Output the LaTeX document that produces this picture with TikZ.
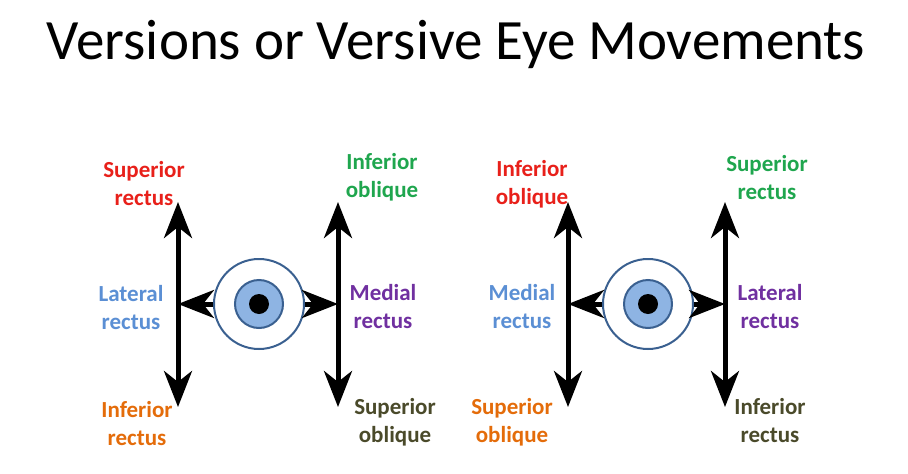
\documentclass[tikz,border=0pt]{standalone}
\usepackage{fontspec}
\setmainfont{Carlito}
\usetikzlibrary{arrows.meta}
\definecolor{cR}{HTML}{E8201A}\definecolor{cG}{HTML}{1FA64E}\definecolor{cB}{HTML}{5B8FD4}
\definecolor{cP}{HTML}{7030A0}\definecolor{cO}{HTML}{E46C0A}\definecolor{cD}{HTML}{4A4A2A}
\definecolor{eyeline}{HTML}{3A6090}\definecolor{iris}{HTML}{8EB4E3}
\begin{document}
\begin{tikzpicture}[x=1pt,y=-1pt,
 lab/.style={font=\fontsize{23}{28}\selectfont\bfseries,align=center},
 arr/.style={line width=5pt,{Stealth[length=36pt,width=28pt,inset=11pt]}-{Stealth[length=36pt,width=28pt,inset=11pt]}},
 harr/.style={line width=5pt,-{Stealth[length=36pt,width=28pt,inset=11pt]}}]
\useasboundingbox (0,0) rectangle (908,474);
\node[font=\fontsize{57}{64}\selectfont] (title) at (456,44) {Versions or Versive Eye Movements};
\foreach \n/\cx/\lx/\rx in {L/259/178/338, R/648/568/725}{
 \coordinate (t1\n) at (\lx,202); \coordinate (b1\n) at (\lx,407);
 \coordinate (t2\n) at (\rx,202); \coordinate (b2\n) at (\rx,407);
 \coordinate (h1\n) at (\lx,304); \coordinate (h2\n) at (\rx,304);
 \node[circle,draw=eyeline,line width=2pt,fill=white,minimum size=90pt,inner sep=0] (eye\n) at (\cx,304) {};
 \draw[harr] (eye\n.west) -- (h1\n);
 \draw[harr] (eye\n.east) -- (h2\n);
 \node[circle,draw=eyeline,line width=2pt,fill=iris,minimum size=48pt,inner sep=0] (iris\n) at (\cx,304) {};
 \node[circle,fill=black,minimum size=20pt,inner sep=0] (pup\n) at (\cx,304) {};
 \draw[arr] (t1\n) -- (b1\n);
 \draw[arr] (t2\n) -- (b2\n);
}
\node[lab,text=cR] (a1) at (144,184) {Superior\\rectus};
\node[lab,text=cG] (a2) at (382,177) {Inferior\\oblique};
\node[lab,text=cB] (a3) at (131,308) {Lateral\\rectus};
\node[lab,text=cP] (a4) at (383,307) {Medial\\rectus};
\node[lab,text=cO] (a5) at (137,424) {Inferior\\rectus};
\node[lab,text=cD] (a6) at (395,422) {Superior\\oblique};
\node[lab,text=cR] (b1) at (532,184) {Inferior\\oblique};
\node[lab,text=cG] (b2) at (767,178) {Superior\\rectus};
\node[lab,text=cB] (b3) at (522,307) {Medial\\rectus};
\node[lab,text=cP] (b4) at (770,307) {Lateral\\rectus};
\node[lab,text=cO] (b5) at (512,422) {Superior\\oblique};
\node[lab,text=cD] (b6) at (770,421) {Inferior\\rectus};
\end{tikzpicture}
\end{document}
